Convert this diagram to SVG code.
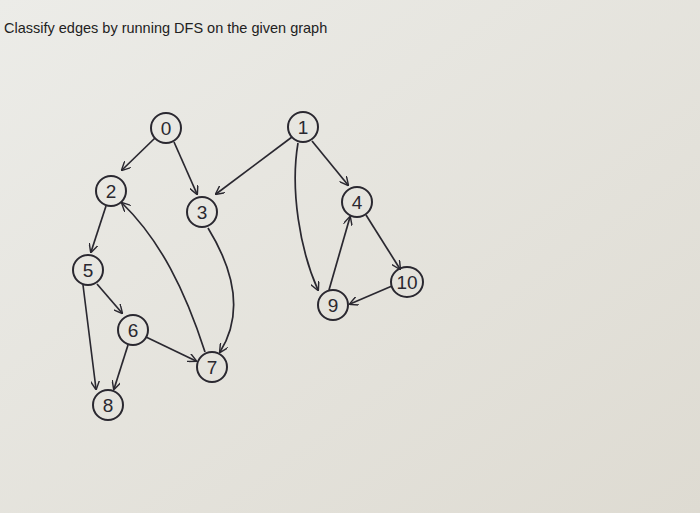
<svg xmlns="http://www.w3.org/2000/svg" width="700" height="513" viewBox="0 0 700 513">
<defs>
<marker id="a" viewBox="0 0 10 10" refX="9" refY="5" markerWidth="9" markerHeight="9" orient="auto" markerUnits="userSpaceOnUse"><path d="M0,0 L10,5 L0,10" fill="none" stroke="#2a2830" stroke-width="1.6"/></marker>
<linearGradient id="bg" x1="0" y1="0" x2="1" y2="1"><stop offset="0" stop-color="#ecece8"/><stop offset="1" stop-color="#dedbd2"/></linearGradient>
</defs>
<style>
.n ellipse{fill:none;stroke:#2a2830;stroke-width:2}
.n text{font-family:"Liberation Sans",Arial,sans-serif;font-size:19px;fill:#2a2830;text-anchor:middle;dominant-baseline:central}
#edges path{fill:none;stroke:#2a2830;stroke-width:1.7;marker-end:url(#a)}
</style>
<rect width="700" height="513" fill="url(#bg)"/>
<text x="4" y="33" font-family="Liberation Sans,Arial,sans-serif" font-size="14.5" fill="#222">Classify edges by running DFS on the given graph</text>
<g id="edges">
<path d="M155,138 L122,170"/>
<path d="M174,142 L197,194"/>
<path d="M292,137 L216,194"/>
<path d="M298,143 C290,190 300,250 318,290"/>
<path d="M312,141 L348,185"/>
<path d="M106,206 L91,252"/>
<path d="M97,284 L122,313"/>
<path d="M83,285 L96,389"/>
<path d="M128,345 L114,389"/>
<path d="M146,337 L196,361"/>
<path d="M205,352 C185,290 160,240 122,203"/>
<path d="M208,228 C240,280 240,320 220,352"/>
<path d="M329,290 L350,217"/>
<path d="M366,215 L400,269"/>
<path d="M392,286 L350,304"/>
</g>
<g id="n0" class="n"><ellipse cx="166" cy="128" rx="15" ry="15"/><text x="166" y="128">0</text></g>
<g id="n1" class="n"><ellipse cx="303" cy="127" rx="15" ry="15"/><text x="303" y="127">1</text></g>
<g id="n2" class="n"><ellipse cx="111" cy="191" rx="15" ry="15"/><text x="111" y="191">2</text></g>
<g id="n3" class="n"><ellipse cx="202" cy="212" rx="15" ry="15"/><text x="202" y="212">3</text></g>
<g id="n4" class="n"><ellipse cx="357" cy="202" rx="15" ry="15"/><text x="357" y="202">4</text></g>
<g id="n5" class="n"><ellipse cx="88" cy="270" rx="15" ry="15"/><text x="88" y="270">5</text></g>
<g id="n6" class="n"><ellipse cx="133" cy="330" rx="15" ry="15"/><text x="133" y="330">6</text></g>
<g id="n7" class="n"><ellipse cx="212" cy="367" rx="15" ry="15"/><text x="212" y="367">7</text></g>
<g id="n8" class="n"><ellipse cx="108" cy="405" rx="15" ry="15"/><text x="108" y="405">8</text></g>
<g id="n9" class="n"><ellipse cx="333" cy="305" rx="15" ry="15"/><text x="333" y="305">9</text></g>
<g id="n10" class="n"><ellipse cx="407" cy="282" rx="16" ry="15"/><text x="407" y="282">10</text></g>
</svg>
